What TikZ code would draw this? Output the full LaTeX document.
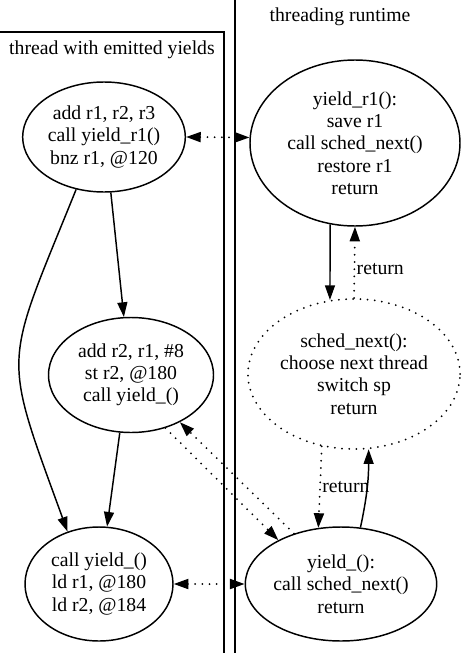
\documentclass[tikz,border=0pt]{standalone}
\usepackage{fontspec}
\setmainfont{Liberation Serif}
\usetikzlibrary{arrows.meta, shapes.geometric, calc, positioning}
\tikzset{
    blockNode/.style={ellipse, draw, line width=1.1pt, inner sep=0pt, align=center, font=\fontsize{14.8pt}{16.7pt}\selectfont},
    runtimeNode/.style={blockNode, line width=1.5pt, line cap=round, dash pattern=on 0pt off 5.4pt},
    ctrlEdge/.style={-{Triangle[length=11pt, width=7.5pt]}, line width=1.1pt},
    switchEdge/.style={ctrlEdge, line width=1.5pt, line cap=round, dash pattern=on 0pt off 5.4pt},
    switchLink/.style={switchEdge, {Triangle[length=11pt, width=7.5pt]}-{Triangle[length=11pt, width=7.5pt]}},
    clusterBox/.style={draw, line width=1.1pt},
    clusterTitle/.style={font=\fontsize{14.8pt}{16.7pt}\selectfont},
}
\newcommand{\drawSwitch}[2]{
    \draw[switchLink] (#1) -- (#2);
}
\newcommand{\drawReturn}[3][0.5]{
    \draw[switchEdge] (#2) -- node[right, pos=#1, inner sep=1pt, clusterTitle] {return} (#3);
}

\begin{document}
\begin{tikzpicture}[x=0.75pt, y=0.75pt]
        \useasboundingbox (0,0) rectangle (474,-653);

        % clusters
        \draw[clusterBox] (-5,-32) rectangle (224,-670);
        \draw[clusterBox] (235,10) rectangle (490,-670);
        \node[clusterTitle] (T1) at (112,-50) {thread with emitted yields};
        \node[clusterTitle] (T2) at (340,-17) {threading runtime};

        % thread blocks
        \node[blockNode, minimum width=122pt, minimum height=82.5pt] (A) at (104,-137) {add r1, r2, r3\\call yield\_r1()\\bnz r1, @120};
        \node[blockNode, minimum width=123.75pt, minimum height=86.25pt] (B) at (131,-375) {add r2, r1, \#8\\st r2, @180\\call yield\_()};
        \node[blockNode, minimum width=111pt, minimum height=85.5pt] (C) at (99,-584) {call yield\_()\\ld r1, @180\\ld r2, @184};

        % runtime
        \node[blockNode, minimum width=157.5pt, minimum height=124.5pt] (R1) at (355,-143) {yield\_r1():\\save r1\\call sched\_next()\\restore r1\\return};
        \node[runtimeNode, minimum width=159pt, minimum height=112.5pt] (S) at (354,-374) {sched\_next():\\choose next thread\\switch sp\\return};
        \node[blockNode, minimum width=143.5pt, minimum height=85.5pt] (Y) at (341,-584) {yield\_():\\call sched\_next()\\return};

        \draw[ctrlEdge] (A.-83) -- (B.97);
        \draw[ctrlEdge] (A.-118) to[out=-112, in=110, looseness=1.45] (C.121);
        \draw[ctrlEdge] (B.-101) -- (C.82);

        \drawSwitch{A.0}{R1.177}
        \drawSwitch{C.0}{Y.180}
        \draw[switchEdge] (B.-57) -- (Y.145);
        \draw[switchEdge] (Y.133) -- (B.-44);

        \draw[ctrlEdge] (R1.-107) -- (S.108);
        \drawReturn[0.4]{S.90}{R1.-90}
        \drawReturn{S.-114}{Y.112}
        \draw[ctrlEdge] (Y.71) to[out=78, in=-90] (S.-79);
    \end{tikzpicture}
\end{document}
